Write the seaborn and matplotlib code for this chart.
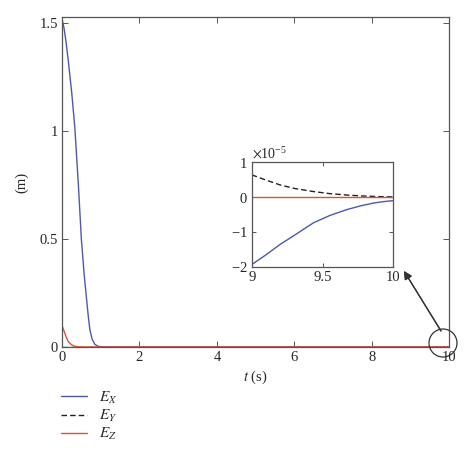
import numpy as np
import pandas as pd
import matplotlib
matplotlib.use("Agg")
import matplotlib.pyplot as plt
import seaborn as sns
from matplotlib.patches import Circle
from matplotlib.ticker import FuncFormatter, ScalarFormatter

# ---- main curves ----
t_main = [0, 0.05, 0.1, 0.16, 0.25, 0.33, 0.42, 0.5, 0.57, 0.63, 0.68, 0.72, 0.78, 0.85, 0.92, 1.0, 1.2, 1.5, 2, 4, 6, 8, 10]
ex_main = [1.52, 1.48, 1.42, 1.33, 1.18, 1.02, 0.76, 0.50, 0.34, 0.23, 0.14, 0.08, 0.035, 0.012, 0.004, 0.001, 0.0, 0.0, 0.0, 0.0, 0.0, 0.0, 0.0]
ey_main = [0.0] * len(t_main)
ez_main = [0.10, 0.075, 0.05, 0.025, 0.01, 0.003, 0.001, 0.0, 0.0, 0.0, 0.0, 0.0, 0.0, 0.0, 0.0, 0.0, 0.0, 0.0, 0.0, 0.0, 0.0, 0.0, 0.0]

# ---- inset curves (units of 1e-5) ----
t_zoom = [9.0, 9.1, 9.2, 9.3, 9.435, 9.55, 9.67, 9.77, 9.86, 9.93, 10.0]
ex_zoom = [-1.94, -1.66, -1.36, -1.10, -0.74, -0.53, -0.36, -0.25, -0.17, -0.13, -0.10]
ey_zoom = [0.64, 0.49, 0.35, 0.25, 0.16, 0.10, 0.06, 0.035, 0.02, 0.01, 0.005]
ez_zoom = [0.0] * len(t_zoom)

labels = ["$E_X$", "$E_Y$", "$E_Z$"]
colors = ["#4e57b0", "#222222", "#de5136"]
dash_styles = ["", (4, 2.2), ""]

sns.set_style("ticks")
plt.rcParams["font.family"] = ["Liberation Serif", "DejaVu Serif"]
plt.rcParams["mathtext.fontset"] = "stix"
plt.rcParams["font.size"] = 10.5

def long_df(t, series):
    frames = []
    for lab, vals in zip(labels, series):
        frames.append(pd.DataFrame({"t": t, "v": vals, "s": lab}))
    return pd.concat(frames, ignore_index=True)

df_main = long_df(t_main, [ex_main, ey_main, ez_main])
df_zoom = long_df(t_zoom, [np.array(ex_zoom) * 1e-5, np.array(ey_zoom) * 1e-5, np.array(ez_zoom) * 1e-5])

fig = plt.figure(figsize=(4.74, 4.55), dpi=100)
ax = fig.add_axes([0.1308, 0.2374, 0.8172, 0.7252])

palette = dict(zip(labels, colors))
dashes = dict(zip(labels, dash_styles))
sns.lineplot(data=df_main, x="t", y="v", hue="s", style="s", hue_order=labels,
             style_order=labels, palette=palette, dashes=dashes, ax=ax,
             linewidth=1.0, legend=True, sort=False)
ax.set_xlim(0, 10)
ax.set_ylim(0, 1.529)
ax.set_xticks([0, 2, 4, 6, 8, 10])
ax.set_yticks([0, 0.5, 1, 1.5])
ax.yaxis.set_major_formatter(FuncFormatter(lambda v, p: "%g" % v))
ax.set_xlabel("$t$ (s)", labelpad=3)
ax.set_ylabel("(m)", labelpad=8)
ax.tick_params(direction="in", top=True, right=True, length=4, width=0.7,
               color="#555555", labelsize=10.5, pad=3)
for sp in ax.spines.values():
    sp.set_color("#555555")
    sp.set_linewidth(0.9)

handles, labs = ax.get_legend_handles_labels()
ax.get_legend().remove()
fig.legend(handles, labs, loc="upper left", bbox_to_anchor=(0.128, 0.144),
           frameon=False, borderpad=0, borderaxespad=0, handlelength=1.75,
           handletextpad=0.75, labelspacing=0.15, fontsize=11)

# inset
axi = fig.add_axes([0.531, 0.4138, 0.299, 0.2295])
sns.lineplot(data=df_zoom, x="t", y="v", hue="s", style="s", hue_order=labels,
             style_order=labels, palette=palette, dashes=dashes, ax=axi,
             linewidth=1.0, legend=False, sort=False)
axi.set_xlim(9, 10)
axi.set_ylim(-2e-5, 1e-5)
axi.set_xticks([9, 9.5, 10])
axi.xaxis.set_major_formatter(FuncFormatter(lambda v, p: "%g" % v))
axi.set_yticks([-2e-5, -1e-5, 0, 1e-5])
fmt = ScalarFormatter(useMathText=True)
fmt.set_powerlimits((-3, 3))
axi.yaxis.set_major_formatter(fmt)
axi.set_xlabel("")
axi.set_ylabel("")
axi.tick_params(direction="in", top=True, right=True, length=3, width=0.7,
                color="#555555", labelsize=10.5, pad=3)
axi.yaxis.get_offset_text().set_fontsize(10)
for sp in axi.spines.values():
    sp.set_color("#555555")
    sp.set_linewidth(0.9)

# circle and arrow
circ = Circle((4.43, 1.12), 0.14, transform=fig.dpi_scale_trans, fill=False,
              edgecolor="#333333", linewidth=0.9, clip_on=False)
fig.patches.append(circ)
fig.add_artist(plt.annotate("", xy=(404, 184), xytext=(441, 124),
               xycoords="figure pixels", textcoords="figure pixels",
               arrowprops=dict(arrowstyle="-|>", color="#333333", lw=0.9,
                               mutation_scale=12, shrinkA=0, shrinkB=0)))

fig.savefig("out.png", dpi=100)
